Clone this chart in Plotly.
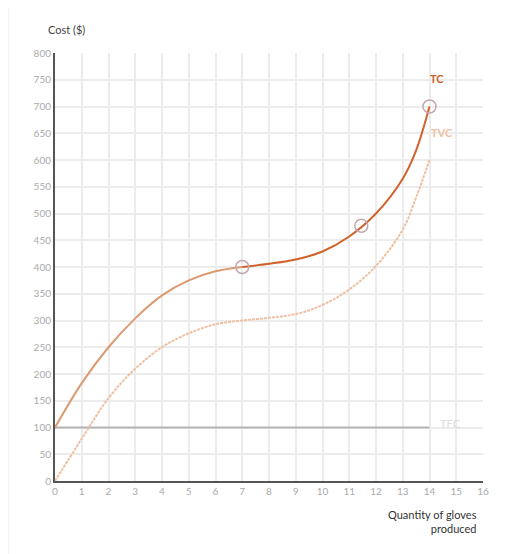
import plotly.graph_objects as go

# quantity of gloves and costs
quantity = [0, 1, 2, 3, 4, 5, 6, 7, 8, 9, 10, 11, 12, 13, 13.5, 14]
total_cost = [100, 183, 250, 304, 347, 375, 392, 400, 406, 414, 429, 457,
              500, 565, 618, 700]
variable_cost = [0, 79, 155, 210, 250, 276, 293, 300, 305, 312, 329, 358,
                 402, 470, 530, 600]
fixed_cost = [100, 100]
fixed_q = [0, 14]

marker_q = [7, 11.45, 14]
marker_cost = [400, 477, 700]

x_ticks = list(range(0, 17))
y_ticks = list(range(0, 801, 50))

TC_DARK = '#d0622c'
TC_LIGHT = '#dc9a72'
TVC_COLOR = '#eec0a2'
FONT = 'Lato, "Open Sans", sans-serif'

fig = go.Figure()

fig.add_trace(go.Scatter(
    x=fixed_q, y=fixed_cost, mode='lines',
    line={'color': '#b3b3b3', 'width': 2}
))
fig.add_trace(go.Scatter(
    x=quantity, y=variable_cost, mode='lines',
    line={'color': TVC_COLOR, 'width': 2, 'shape': 'spline', 'dash': '3px,1px'}
))
fig.add_trace(go.Scatter(
    x=quantity[:8], y=total_cost[:8], mode='lines',
    line={'color': TC_LIGHT, 'width': 2, 'shape': 'spline'}
))
fig.add_trace(go.Scatter(
    x=quantity[7:], y=total_cost[7:], mode='lines',
    line={'color': TC_DARK, 'width': 2, 'shape': 'spline'}
))
fig.add_trace(go.Scatter(
    x=marker_q, y=marker_cost, mode='markers',
    marker={'size': 13, 'color': 'rgba(0,0,0,0)',
            'line': {'color': '#c7a7ad', 'width': 1.5}}
))

fig.add_annotation(x=14.27, y=752, text='<b>TC</b>', showarrow=False,
                   font={'family': FONT, 'size': 11, 'color': TC_DARK})
fig.add_annotation(x=14.45, y=652, text='<b>TVC</b>', showarrow=False,
                   font={'family': FONT, 'size': 11, 'color': TVC_COLOR})
fig.add_annotation(x=14.8, y=108, text='TFC', showarrow=False,
                   font={'family': FONT, 'size': 11, 'color': '#dcdcdc'})
fig.add_annotation(x=-0.02, y=1.075, xref='paper', yref='paper',
                   text='Cost ($)', showarrow=False, xanchor='left',
                   font={'family': FONT, 'size': 11, 'color': '#444'})
fig.add_annotation(x=0.99, y=-0.13, xref='paper', yref='paper',
                   text='Quantity of gloves<br>produced', showarrow=False,
                   xanchor='right', align='right',
                   font={'family': FONT, 'size': 11, 'color': '#333'})

# faint card border on both sides
for xp in [-0.108, 1.05]:
    fig.add_shape(type='line', xref='paper', yref='paper',
                  x0=xp, x1=xp, y0=-0.2, y1=1.2,
                  line={'color': '#f0f0f0', 'width': 1})

# page body has an 8px margin, so the figure is 8px smaller than the window
fig['layout'].update({
    'width': 500,
    'height': 546,
    'showlegend': False,
    'plot_bgcolor': 'white',
    'paper_bgcolor': 'white',
    'margin': {'l': 47, 'r': 25, 't': 45, 'b': 73},
    'xaxis': {
        'range': [0, 16],
        'tickvals': x_ticks,
        'showgrid': True, 'gridcolor': '#ececec', 'gridwidth': 1.5,
        'showline': True, 'linecolor': '#555', 'linewidth': 2,
        'zeroline': False,
        'tickfont': {'family': FONT, 'size': 10, 'color': '#aaa'},
    },
    'yaxis': {
        'range': [0, 800],
        'tickvals': y_ticks,
        'showgrid': True, 'gridcolor': '#ececec', 'gridwidth': 1.5,
        'showline': True, 'linecolor': '#555', 'linewidth': 2,
        'zeroline': False,
        'tickfont': {'family': FONT, 'size': 10, 'color': '#aaa'},
    },
})

fig.write_html('out.html')
